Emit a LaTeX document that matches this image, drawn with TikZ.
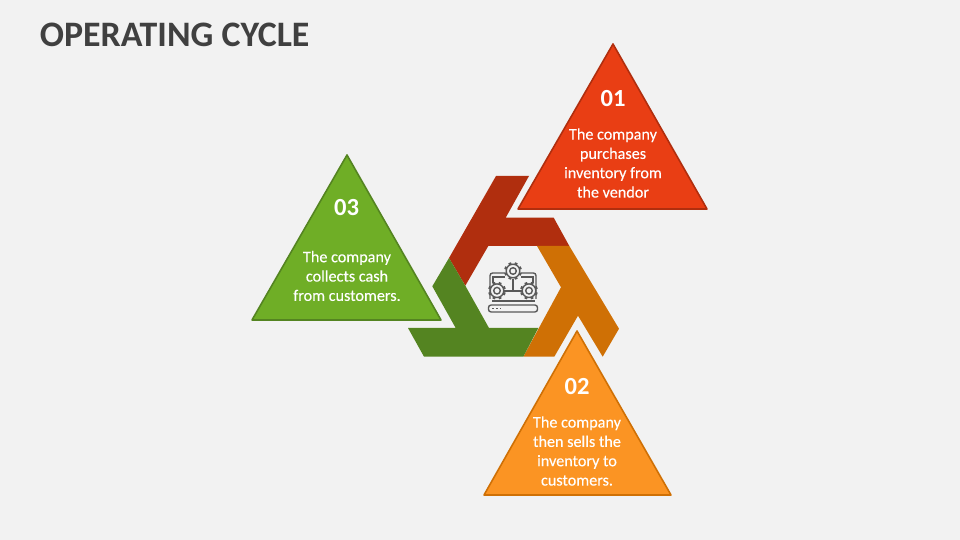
\documentclass[tikz,border=0pt]{standalone}
\usepackage{fontspec}
\setmainfont{Carlito}
\newfontfamily\bodyfont[FakeBold=0.25]{Carlito}
\usepackage{tikz}
\definecolor{pagebg}{HTML}{F2F2F2}
\definecolor{titlegray}{HTML}{404040}
\definecolor{icongray}{HTML}{595959}
\definecolor{redfill}{HTML}{E93E14}
\definecolor{redline}{HTML}{B02E0E}
\definecolor{orangefill}{HTML}{FB9423}
\definecolor{orangeline}{HTML}{CF7005}
\definecolor{greenfill}{HTML}{6FAE26}
\definecolor{greenline}{HTML}{548421}
\tikzstyle{head} = [font=\fontsize{14}{17}\selectfont\bfseries, text=white, inner sep=0pt]
\tikzstyle{body} = [font=\bodyfont\fontsize{9.2}{11}\selectfont, text=white, align=center, inner sep=0pt]
\tikzstyle{icon} = [draw=icongray, line width=.8pt]
% one gear of the icon
\newcommand{\gearicon}[2]{
  \foreach \a in {0,45,...,315} {
    \draw[icon, line width=1.6pt] (#1,#2) ++(\a+22.5:6.5) -- ++(\a+22.5:2.4);
  }
  \draw[icon, fill=pagebg] (#1,#2) circle (6.8);
  \draw[icon] (#1,#2) circle (3.3);
}

\begin{document}
\begin{tikzpicture}[x=.02cm,y=-.02cm]
\useasboundingbox (0,0) rectangle (960,540);
\fill[pagebg] (0,0) rectangle (960,540);
\node[font=\fontsize{20.4}{24}\selectfont\bfseries, text=titlegray, anchor=west, inner sep=0pt] (title) at (39.5,34.5) {OPERATING CYCLE};
% arms of the cycle
\fill[redline] (496,176) -- (529,176) -- (505.7,217.7) -- (553.7,217.7) -- (569.3,246) -- (488.3,246) -- (465.3,285.7) -- (449,258) -- cycle;
\fill[orangeline] (537,246) -- (569.3,246) -- (619,328.7) -- (602.7,356.7) -- (578,315.7) -- (554.3,356.7) -- (523.3,356.7) -- (561,287.3) -- cycle;
\fill[greenline] (449,258) -- (465.3,285.7) -- (489,328) -- (538.3,328) -- (523.3,356.7) -- (424,356.7) -- (408,328) -- (455.7,328) -- (432.3,286.3) -- cycle;
% triangles
\draw[redline, fill=redfill, line width=.9pt, line join=round] (613,44) -- (707,209) -- (518,209) -- cycle;
\draw[orangeline, fill=orangefill, line width=.9pt, line join=round] (577,331) -- (671,495) -- (484,495) -- cycle;
\draw[greenline, fill=greenfill, line width=.9pt, line join=round] (347,155) -- (441,320) -- (252,320) -- cycle;
\node[head] (num1) at (613,98.5) {01};
\node[body] (text1) at (613,163) {The company\\purchases\\inventory from\\the vendor};
\node[head] (num2) at (577,386.5) {02};
\node[body] (text2) at (577,451) {The company\\then sells the\\inventory to\\customers.};
\node[head] (num3) at (346.5,207.5) {03};
\node[body] (text3) at (347,276) {The company\\collects cash\\from customers.};
% icon
\draw[icon, rounded corners=1.5pt] (490,299) -- (490,273) -- (505,273);
\draw[icon, rounded corners=1.5pt] (521,273) -- (536,273) -- (536,299);
\draw[icon] (493,283) -- (493,277) -- (505,277);
\draw[icon] (521,277) -- (533,277) -- (533,283);
\draw[icon] (492,301) -- (535,301);
\draw[icon, rounded corners=1.5pt] (488.5,305) -- (537.5,305) -- (537.5,312) -- (488.5,312) -- cycle;
\draw[icon, dash pattern=on 1.2pt off 1.2pt] (492,308.5) -- (501,308.5);
\draw[icon] (513,279) -- (513,291);
\draw[icon] (504,291) -- (522,291);
\gearicon{513}{271}
\gearicon{497}{290.7}
\gearicon{529}{290.7}
\end{tikzpicture}
\end{document}
